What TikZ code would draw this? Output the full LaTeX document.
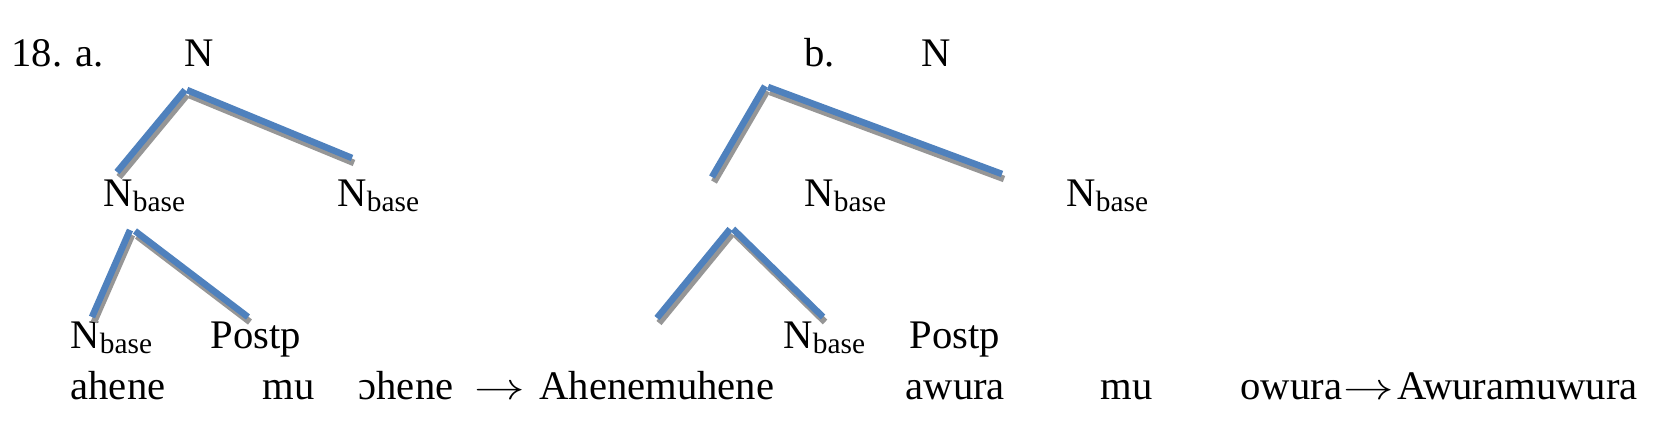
\documentclass[tikz,border=0pt]{standalone}
\usepackage{fontspec}
\setmainfont{Liberation Serif}
\usepackage{tikz}
\usetikzlibrary{positioning}

\definecolor{treeblue}{RGB}{79,129,189}
\definecolor{treeshade}{RGB}{150,150,150}
\newcommand{\Nbase}{N\raisebox{-1.7pt}{\fontsize{9.4}{11}\selectfont base}}
\newcommand{\toarrow}{\scalebox{1.35}[1]{\(\rightarrow\)}}

\tikzset{
  word/.style={anchor=base west, inner sep=0pt},
  branch/.style={draw=treeblue, line width=2.1pt},
  shadeline/.style={draw=treeshade, line width=2.1pt}
}

\begin{document}
\begin{tikzpicture}[x=0.32pt, y=-0.32pt, font=\fontsize{13}{15}\selectfont]
\useasboundingbox (0,0) rectangle (1675,422);

% (a)
\node[word] (alabel) at (11, 66) {18. a.};
\node[word] (aN) at (184, 66) {N};
\node[word] (aNb1) at (103, 206) {\Nbase};
\node[word] (aNb2) at (337, 206) {\Nbase};
\node[word] (aNb3) at (70, 348) {\Nbase};
\node[word] (aPostp) at (210, 348) {Postp};
\node[word] (ahene) at (70, 399) {ahene};
\node[word] (amu) at (262, 399) {mu};
\node[word] (ohene) at (358, 399) {ɔhene};
\node[word] (aarrow) at (474, 399) {\toarrow};
\node[word] (acomp) at (539, 399) {Ahenemuhene};

% (b)
\node[word] (blabel) at (804, 66) {b.};
\node[word] (bN) at (921, 66) {N};
\node[word] (bNb1) at (804, 206) {\Nbase};
\node[word] (bNb2) at (1066, 206) {\Nbase};
\node[word] (bNb3) at (783, 348) {\Nbase};
\node[word] (bPostp) at (909, 348) {Postp};
\node[word] (awura) at (905, 399) {awura};
\node[word] (bmu) at (1100, 399) {mu};
\node[word] (owura) at (1240, 399) {owura};
\node[word] (barrow) at (1343, 399) {\toarrow};
\node[word] (bcomp) at (1397, 399) {Awuramuwura};

% branch ends
\coordinate (aTopL) at (185, 90);  \coordinate (aL) at (117, 172);
\coordinate (aTopR) at (187, 90);  \coordinate (aR) at (352, 158);
\coordinate (aLowTopL) at (130, 230); \coordinate (aLowL) at (92, 317);
\coordinate (aLowTopR) at (135, 231); \coordinate (aLowR) at (248, 317);
\coordinate (bTopL) at (765, 86);  \coordinate (bL) at (712, 177);
\coordinate (bTopR) at (768, 87);  \coordinate (bR) at (1002, 174);
\coordinate (bLowTopL) at (730, 229); \coordinate (bLowL) at (657, 318);
\coordinate (bLowTopR) at (733, 229); \coordinate (bLowR) at (823, 317);

\foreach \a/\b in {aTopL/aL, aTopR/aR, aLowTopL/aLowL, aLowTopR/aLowR,
                   bTopL/bL, bTopR/bR, bLowTopL/bLowL, bLowTopR/bLowR} {
  \draw[shadeline] ([shift={(2,5)}]\a) -- ([shift={(2,5)}]\b);
  \draw[branch] (\a) -- (\b);
}
\end{tikzpicture}
\end{document}
